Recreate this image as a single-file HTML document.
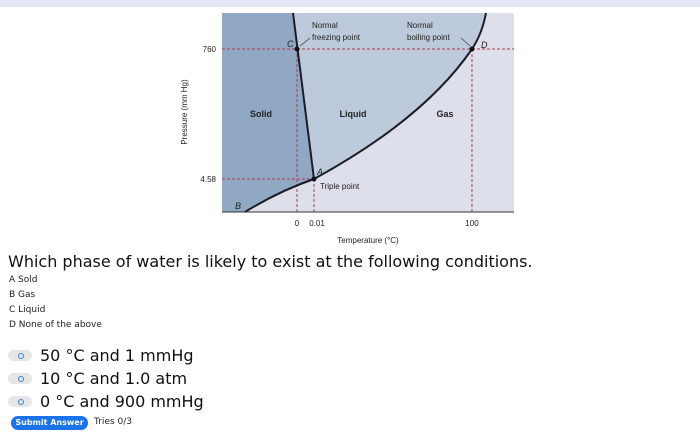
<!DOCTYPE html>
<html><head><meta charset="utf-8">
<style>
body{margin:0;width:700px;height:442px;background:#fff;font-family:"DejaVu Sans","Liberation Sans",sans-serif;position:relative;overflow:hidden}
.abs{position:absolute;white-space:nowrap}
.opt{font-size:9px;color:#222;left:9px}
.row{left:8px;font-size:16px;color:#111;display:flex;align-items:center}
.tog{width:24px;height:11px;border-radius:6px;background:#e6e6e6;position:relative;margin-right:8px}
.tog:after{content:"";position:absolute;left:10px;top:3px;width:4px;height:4px;border:1px solid #3b7fd0;border-radius:50%}
</style></head><body>
<div class="abs" style="left:0;top:0;width:700px;height:7px;background:#e4e8f5"></div>
<svg class="abs" style="left:0;top:0" width="700" height="250">
<g id="plot"></g>
</svg>
<div class="abs" style="left:8px;top:252px;font-size:16px;color:#111">Which phase of water is likely to exist at the following conditions.</div>
<div class="abs opt" style="top:275px">A Sold</div>
<div class="abs opt" style="top:290px">B Gas</div>
<div class="abs opt" style="top:305px">C Liquid</div>
<div class="abs opt" style="top:320px">D None of the above</div>
<div class="abs row" style="top:346px"><span class="tog"></span>50 °C and 1 mmHg</div>
<div class="abs row" style="top:369px"><span class="tog"></span>10 °C and 1.0 atm</div>
<div class="abs row" style="top:392px"><span class="tog"></span>0 °C and 900 mmHg</div>
<div class="abs" style="left:11px;top:416px;width:77px;height:14px;border-radius:7px;background:#1a73e8;color:#fff;font-size:8px;font-weight:bold;text-align:center;line-height:14px">Submit Answer</div>
<div class="abs" style="left:94px;top:417px;font-size:9px;color:#222">Tries 0/3</div>
<script>
const xTickLabels=["0","0.01","100"];
const xTickValues=[0,0.01,100];
const yTickLabels=["760","4.58"];
const yTickValues=[760,4.58];
const pointLabels=["A","B","C","D"];
const pointT=[0.01,-20,0,100];
const pointP=[4.58,0.5,760,760];
// schematic (non-linear) axes
function xs(t){ if(t<=0) return 297+t*2.6; if(t<=0.01) return 297+t*1700; return 314+(t-0.01)*1.58;}
function ys(p){ if(p<=4.58) return 212-(p-0.5)/(4.08)*33; return 179-(p-4.58)/(755.42)*130;}
const g=document.getElementById('plot');
const NS="http://www.w3.org/2000/svg";
function mk(tag,attrs,name,txt){const e=document.createElementNS(NS,tag);for(const k in attrs)e.setAttribute(k,attrs[k]);


if(txt)e.textContent=txt;g.appendChild(e);return e;}
const L=222,R=514,T=13,B=212;
const A=[xs(pointT[0]),ys(pointP[0])],Bp=[xs(pointT[1]),ys(pointP[1])],C=[xs(pointT[2]),ys(pointP[2])],D=[xs(pointT[3]),ys(pointP[3])];
const topC=[C[0]-4,T],topD=[D[0]+14,T];
mk('rect',{x:L,y:T,width:R-L,height:B-T,fill:'#dde0ea'},'gas-region');
const vapQ=`Q${A[0]+110},${A[1]-60} ${D[0]},${D[1]} Q${D[0]+10},${D[1]-15} ${topD[0]},${topD[1]}`;
const vap=`M${A[0]},${A[1]} `+vapQ;
mk('path',{d:`M${topC[0]},${T} L${A[0]},${A[1]} ${vapQ} Z`,fill:'#bccadc'},'liquid-region');
mk('path',{d:`M${L},${T} L${topC[0]},${T} L${A[0]},${A[1]} Q${A[0]-35},${A[1]+12} ${Bp[0]},${B} L${L},${B} Z`,fill:'#91a8c5'},'solid-region');
const dash={stroke:'#b03a4a','stroke-width':1,'stroke-dasharray':'3,2',fill:'none'};
mk('line',Object.assign({x1:L,y1:C[1],x2:R,y2:C[1]},dash),'guide-760');
mk('line',Object.assign({x1:L,y1:A[1],x2:A[0],y2:A[1]},dash),'guide-458');
mk('line',Object.assign({x1:C[0],y1:C[1],x2:C[0],y2:B},dash),'guide-0');
mk('line',Object.assign({x1:A[0],y1:A[1],x2:A[0],y2:B},dash),'guide-001');
mk('line',Object.assign({x1:D[0],y1:D[1],x2:D[0],y2:B},dash),'guide-100');
const ln={stroke:'#1c1c24','stroke-width':2,fill:'none'};
mk('path',Object.assign({d:`M${topC[0]},${T} L${A[0]},${A[1]}`},ln),'fusion-curve');
mk('path',Object.assign({d:vap},ln),'vaporization-curve');
mk('path',Object.assign({d:`M${A[0]},${A[1]} Q${A[0]-35},${A[1]+12} ${Bp[0]},${B}`},ln),'sublimation-curve');
mk('line',{x1:L,y1:B,x2:R,y2:B,stroke:'#333','stroke-width':1},'x-axis');
[A,C,D].forEach((p,i)=>mk('circle',{cx:p[0],cy:p[1],r:2.5,fill:'#111'},'point-'+['a','c','d'][i]));
const off=[[3,-4],[-10,-3],[-10,-2],[9,-1]];
[A,Bp,C,D].forEach((p,i)=>mk('text',{x:p[0]+off[i][0],y:p[1]+off[i][1],'font-size':9,'font-style':'italic',fill:'#222','font-family':'Liberation Sans'},'label-'+pointLabels[i].toLowerCase(),pointLabels[i]));
const tf={'font-size':8,fill:'#222','font-family':'Liberation Sans'};
xTickValues.forEach((v,i)=>mk('text',Object.assign({x:xs(v)+(i==1?3:0),y:226,'text-anchor':'middle'},tf),'x-tick-'+i,xTickLabels[i]));
yTickValues.forEach((v,i)=>mk('text',Object.assign({x:216,y:ys(v)+3,'text-anchor':'end'},tf),'y-tick-'+i,yTickLabels[i]));
mk('text',Object.assign({x:368,y:243,'text-anchor':'middle'},tf),'x-axis-title','Temperature (°C)');
mk('text',Object.assign({x:0,y:0,'text-anchor':'middle',transform:'translate(187,112) rotate(-90)'},tf),'y-axis-title','Pressure (mm Hg)');
const rf={'font-size':9,'font-weight':'bold',fill:'#222','font-family':'Liberation Sans','text-anchor':'middle'};
mk('text',Object.assign({x:261,y:117},rf),'solid-label','Solid');
mk('text',Object.assign({x:353,y:117},rf),'liquid-label','Liquid');
mk('text',Object.assign({x:445,y:117},rf),'gas-label','Gas');
mk('text',Object.assign({x:312,y:28},tf),'freezing-label-1','Normal');
mk('text',Object.assign({x:312,y:40},tf),'freezing-label-2','freezing point');
mk('text',Object.assign({x:407,y:28},tf),'boiling-label-1','Normal');
mk('text',Object.assign({x:407,y:40},tf),'boiling-label-2','boiling point');
mk('text',Object.assign({x:320,y:189},tf),'triple-point-label','Triple point');
mk('line',{x1:300,y1:46,x2:310,y2:38,stroke:'#333','stroke-width':0.7},'freezing-leader');
mk('line',{x1:461,y1:38,x2:470,y2:46,stroke:'#333','stroke-width':0.7},'boiling-leader');
</script>
</body></html>
